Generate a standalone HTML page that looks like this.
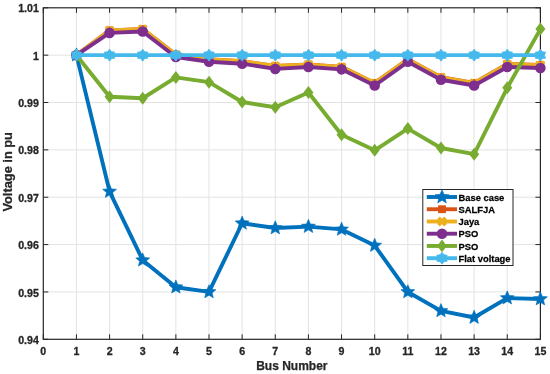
<!DOCTYPE html><html><head><meta charset="utf-8"><title>Voltage profile</title><style>html,body{margin:0;padding:0;background:#fff}body{width:550px;height:374px;overflow:hidden;position:relative}</style></head><body><svg width="550" height="374" viewBox="0 0 550 374" style="display:block;position:absolute;left:0;top:0">
<rect width="550" height="374" fill="#fff"/>
<path d="M76.44 7.80V339.30M109.58 7.80V339.30M142.72 7.80V339.30M175.86 7.80V339.30M209.00 7.80V339.30M242.14 7.80V339.30M275.28 7.80V339.30M308.42 7.80V339.30M341.56 7.80V339.30M374.70 7.80V339.30M407.84 7.80V339.30M440.98 7.80V339.30M474.12 7.80V339.30M507.26 7.80V339.30M43.30 291.94H540.40M43.30 244.59H540.40M43.30 197.23H540.40M43.30 149.87H540.40M43.30 102.51H540.40M43.30 55.16H540.40" stroke="#e3e3e3" stroke-width="1" fill="none"/>
<path d="M43.30 339.30v-5M43.30 7.80v5M76.44 339.30v-5M76.44 7.80v5M109.58 339.30v-5M109.58 7.80v5M142.72 339.30v-5M142.72 7.80v5M175.86 339.30v-5M175.86 7.80v5M209.00 339.30v-5M209.00 7.80v5M242.14 339.30v-5M242.14 7.80v5M275.28 339.30v-5M275.28 7.80v5M308.42 339.30v-5M308.42 7.80v5M341.56 339.30v-5M341.56 7.80v5M374.70 339.30v-5M374.70 7.80v5M407.84 339.30v-5M407.84 7.80v5M440.98 339.30v-5M440.98 7.80v5M474.12 339.30v-5M474.12 7.80v5M507.26 339.30v-5M507.26 7.80v5M540.40 339.30v-5M540.40 7.80v5M43.30 339.30h5M540.40 339.30h-5M43.30 291.94h5M540.40 291.94h-5M43.30 244.59h5M540.40 244.59h-5M43.30 197.23h5M540.40 197.23h-5M43.30 149.87h5M540.40 149.87h-5M43.30 102.51h5M540.40 102.51h-5M43.30 55.16h5M540.40 55.16h-5M43.30 7.80h5M540.40 7.80h-5" stroke="#262626" stroke-width="1" fill="none"/>
<rect x="43.30" y="7.80" width="497.10" height="331.50" fill="none" stroke="#262626" stroke-width="1.2"/>
<defs><clipPath id="c"><rect x="35.30" y="-0.20" width="513.10" height="347.50"/></clipPath></defs>
<defs><clipPath id="c1"><rect x="71.44" y="0" width="30" height="100"/></clipPath></defs>
<g clip-path="url(#c)">
<polyline points="76.44,55.16 109.58,191.55 142.72,260.21 175.86,287.21 209.00,291.94 242.14,223.27 275.28,228.01 308.42,226.59 341.56,229.43 374.70,245.53 407.84,291.94 440.98,310.89 474.12,317.52 507.26,298.10 540.40,299.05" fill="none" stroke="#0072BD" stroke-width="3.9" stroke-linejoin="round"/>
<g clip-path="url(#c1)"><polygon points="76.44,47.86 78.37,52.50 83.38,52.90 79.56,56.17 80.73,61.06 76.44,58.44 72.15,61.06 73.32,56.17 69.50,52.90 74.51,52.50" fill="#0072BD" stroke="#0072BD" stroke-width="0.6" stroke-linejoin="miter"/></g>
<polygon points="109.58,184.25 111.51,188.89 116.52,189.29 112.70,192.56 113.87,197.45 109.58,194.83 105.29,197.45 106.46,192.56 102.64,189.29 107.65,188.89" fill="#0072BD" stroke="#0072BD" stroke-width="0.6" stroke-linejoin="miter"/>
<polygon points="142.72,252.91 144.65,257.56 149.66,257.96 145.84,261.23 147.01,266.12 142.72,263.50 138.43,266.12 139.60,261.23 135.78,257.96 140.79,257.56" fill="#0072BD" stroke="#0072BD" stroke-width="0.6" stroke-linejoin="miter"/>
<polygon points="175.86,279.91 177.79,284.55 182.80,284.95 178.98,288.22 180.15,293.11 175.86,290.49 171.57,293.11 172.74,288.22 168.92,284.95 173.93,284.55" fill="#0072BD" stroke="#0072BD" stroke-width="0.6" stroke-linejoin="miter"/>
<polygon points="209.00,284.64 210.93,289.29 215.94,289.69 212.12,292.96 213.29,297.85 209.00,295.23 204.71,297.85 205.88,292.96 202.06,289.69 207.07,289.29" fill="#0072BD" stroke="#0072BD" stroke-width="0.6" stroke-linejoin="miter"/>
<polygon points="242.14,215.97 244.07,220.62 249.08,221.02 245.26,224.29 246.43,229.18 242.14,226.56 237.85,229.18 239.02,224.29 235.20,221.02 240.21,220.62" fill="#0072BD" stroke="#0072BD" stroke-width="0.6" stroke-linejoin="miter"/>
<polygon points="275.28,220.71 277.21,225.35 282.22,225.75 278.40,229.03 279.57,233.92 275.28,231.30 270.99,233.92 272.16,229.03 268.34,225.75 273.35,225.35" fill="#0072BD" stroke="#0072BD" stroke-width="0.6" stroke-linejoin="miter"/>
<polygon points="308.42,219.29 310.35,223.93 315.36,224.33 311.54,227.61 312.71,232.50 308.42,229.87 304.13,232.50 305.30,227.61 301.48,224.33 306.49,223.93" fill="#0072BD" stroke="#0072BD" stroke-width="0.6" stroke-linejoin="miter"/>
<polygon points="341.56,222.13 343.49,226.77 348.50,227.18 344.68,230.45 345.85,235.34 341.56,232.72 337.27,235.34 338.44,230.45 334.62,227.18 339.63,226.77" fill="#0072BD" stroke="#0072BD" stroke-width="0.6" stroke-linejoin="miter"/>
<polygon points="374.70,238.23 376.63,242.88 381.64,243.28 377.82,246.55 378.99,251.44 374.70,248.82 370.41,251.44 371.58,246.55 367.76,243.28 372.77,242.88" fill="#0072BD" stroke="#0072BD" stroke-width="0.6" stroke-linejoin="miter"/>
<polygon points="407.84,284.64 409.77,289.29 414.78,289.69 410.96,292.96 412.13,297.85 407.84,295.23 403.55,297.85 404.72,292.96 400.90,289.69 405.91,289.29" fill="#0072BD" stroke="#0072BD" stroke-width="0.6" stroke-linejoin="miter"/>
<polygon points="440.98,303.59 442.91,308.23 447.92,308.63 444.10,311.90 445.27,316.79 440.98,314.17 436.69,316.79 437.86,311.90 434.04,308.63 439.05,308.23" fill="#0072BD" stroke="#0072BD" stroke-width="0.6" stroke-linejoin="miter"/>
<polygon points="474.12,310.22 476.05,314.86 481.06,315.26 477.24,318.53 478.41,323.42 474.12,320.80 469.83,323.42 471.00,318.53 467.18,315.26 472.19,314.86" fill="#0072BD" stroke="#0072BD" stroke-width="0.6" stroke-linejoin="miter"/>
<polygon points="507.26,290.80 509.19,295.44 514.20,295.84 510.38,299.11 511.55,304.01 507.26,301.38 502.97,304.01 504.14,299.11 500.32,295.84 505.33,295.44" fill="#0072BD" stroke="#0072BD" stroke-width="0.6" stroke-linejoin="miter"/>
<polygon points="540.40,291.75 542.33,296.39 547.34,296.79 543.52,300.06 544.69,304.95 540.40,302.33 536.11,304.95 537.28,300.06 533.46,296.79 538.47,296.39" fill="#0072BD" stroke="#0072BD" stroke-width="0.6" stroke-linejoin="miter"/>
<polyline points="76.44,55.16 109.58,30.39 142.72,28.97 175.86,54.54 209.00,59.28 242.14,61.17 275.28,65.91 308.42,64.49 341.56,66.85 374.70,82.96 407.84,59.28 440.98,77.27 474.12,82.96 507.26,64.01 540.40,64.96" fill="none" stroke="#D95319" stroke-width="3.9" stroke-linejoin="round"/>
<rect x="72.54" y="51.26" width="7.8" height="7.8" fill="#D95319"/>
<rect x="105.68" y="26.49" width="7.8" height="7.8" fill="#D95319"/>
<rect x="138.82" y="25.07" width="7.8" height="7.8" fill="#D95319"/>
<rect x="171.96" y="50.64" width="7.8" height="7.8" fill="#D95319"/>
<rect x="205.10" y="55.38" width="7.8" height="7.8" fill="#D95319"/>
<rect x="238.24" y="57.27" width="7.8" height="7.8" fill="#D95319"/>
<rect x="271.38" y="62.01" width="7.8" height="7.8" fill="#D95319"/>
<rect x="304.52" y="60.59" width="7.8" height="7.8" fill="#D95319"/>
<rect x="337.66" y="62.95" width="7.8" height="7.8" fill="#D95319"/>
<rect x="370.80" y="79.06" width="7.8" height="7.8" fill="#D95319"/>
<rect x="403.94" y="55.38" width="7.8" height="7.8" fill="#D95319"/>
<rect x="437.08" y="73.37" width="7.8" height="7.8" fill="#D95319"/>
<rect x="470.22" y="79.06" width="7.8" height="7.8" fill="#D95319"/>
<rect x="503.36" y="60.11" width="7.8" height="7.8" fill="#D95319"/>
<rect x="536.50" y="61.06" width="7.8" height="7.8" fill="#D95319"/>
<polyline points="76.44,55.16 109.58,30.53 142.72,29.11 175.86,54.68 209.00,59.42 242.14,61.31 275.28,66.05 308.42,64.63 341.56,67.00 374.70,83.10 407.84,59.42 440.98,77.41 474.12,83.10 507.26,64.15 540.40,65.10" fill="none" stroke="#EDB120" stroke-width="3.9" stroke-linejoin="round"/>
<path d="M72.84 51.56L80.04 58.76M72.84 58.76L80.04 51.56" stroke="#EDB120" stroke-width="3.8" fill="none"/>
<path d="M105.98 26.93L113.18 34.13M105.98 34.13L113.18 26.93" stroke="#EDB120" stroke-width="3.8" fill="none"/>
<path d="M139.12 25.51L146.32 32.71M139.12 32.71L146.32 25.51" stroke="#EDB120" stroke-width="3.8" fill="none"/>
<path d="M172.26 51.08L179.46 58.28M172.26 58.28L179.46 51.08" stroke="#EDB120" stroke-width="3.8" fill="none"/>
<path d="M205.40 55.82L212.60 63.02M205.40 63.02L212.60 55.82" stroke="#EDB120" stroke-width="3.8" fill="none"/>
<path d="M238.54 57.71L245.74 64.91M238.54 64.91L245.74 57.71" stroke="#EDB120" stroke-width="3.8" fill="none"/>
<path d="M271.68 62.45L278.88 69.65M271.68 69.65L278.88 62.45" stroke="#EDB120" stroke-width="3.8" fill="none"/>
<path d="M304.82 61.03L312.02 68.23M304.82 68.23L312.02 61.03" stroke="#EDB120" stroke-width="3.8" fill="none"/>
<path d="M337.96 63.40L345.16 70.60M337.96 70.60L345.16 63.40" stroke="#EDB120" stroke-width="3.8" fill="none"/>
<path d="M371.10 79.50L378.30 86.70M371.10 86.70L378.30 79.50" stroke="#EDB120" stroke-width="3.8" fill="none"/>
<path d="M404.24 55.82L411.44 63.02M404.24 63.02L411.44 55.82" stroke="#EDB120" stroke-width="3.8" fill="none"/>
<path d="M437.38 73.81L444.58 81.01M437.38 81.01L444.58 73.81" stroke="#EDB120" stroke-width="3.8" fill="none"/>
<path d="M470.52 79.50L477.72 86.70M470.52 86.70L477.72 79.50" stroke="#EDB120" stroke-width="3.8" fill="none"/>
<path d="M503.66 60.55L510.86 67.75M503.66 67.75L510.86 60.55" stroke="#EDB120" stroke-width="3.8" fill="none"/>
<path d="M536.80 61.50L544.00 68.70M536.80 68.70L544.00 61.50" stroke="#EDB120" stroke-width="3.8" fill="none"/>
<polyline points="76.44,55.16 109.58,32.90 142.72,31.48 175.86,57.05 209.00,61.79 242.14,63.68 275.28,68.89 308.42,67.00 341.56,69.36 374.70,85.47 407.84,61.79 440.98,79.78 474.12,85.47 507.26,67.00 540.40,67.94" fill="none" stroke="#7E2F8E" stroke-width="3.9" stroke-linejoin="round"/>
<circle cx="76.44" cy="55.16" r="5.3" fill="#7E2F8E"/>
<circle cx="109.58" cy="32.90" r="5.3" fill="#7E2F8E"/>
<circle cx="142.72" cy="31.48" r="5.3" fill="#7E2F8E"/>
<circle cx="175.86" cy="57.05" r="5.3" fill="#7E2F8E"/>
<circle cx="209.00" cy="61.79" r="5.3" fill="#7E2F8E"/>
<circle cx="242.14" cy="63.68" r="5.3" fill="#7E2F8E"/>
<circle cx="275.28" cy="68.89" r="5.3" fill="#7E2F8E"/>
<circle cx="308.42" cy="67.00" r="5.3" fill="#7E2F8E"/>
<circle cx="341.56" cy="69.36" r="5.3" fill="#7E2F8E"/>
<circle cx="374.70" cy="85.47" r="5.3" fill="#7E2F8E"/>
<circle cx="407.84" cy="61.79" r="5.3" fill="#7E2F8E"/>
<circle cx="440.98" cy="79.78" r="5.3" fill="#7E2F8E"/>
<circle cx="474.12" cy="85.47" r="5.3" fill="#7E2F8E"/>
<circle cx="507.26" cy="67.00" r="5.3" fill="#7E2F8E"/>
<circle cx="540.40" cy="67.94" r="5.3" fill="#7E2F8E"/>
<polyline points="76.44,55.16 109.58,96.74 142.72,98.25 175.86,77.41 209.00,82.15 242.14,102.04 275.28,107.25 308.42,92.57 341.56,134.72 374.70,150.34 407.84,128.56 440.98,147.98 474.12,154.13 507.26,87.83 540.40,29.11" fill="none" stroke="#77AC30" stroke-width="3.9" stroke-linejoin="round"/>
<polygon points="76.44,48.66 81.44,55.16 76.44,61.66 71.44,55.16" fill="#77AC30"/>
<polygon points="109.58,90.24 114.58,96.74 109.58,103.24 104.58,96.74" fill="#77AC30"/>
<polygon points="142.72,91.75 147.72,98.25 142.72,104.75 137.72,98.25" fill="#77AC30"/>
<polygon points="175.86,70.91 180.86,77.41 175.86,83.91 170.86,77.41" fill="#77AC30"/>
<polygon points="209.00,75.65 214.00,82.15 209.00,88.65 204.00,82.15" fill="#77AC30"/>
<polygon points="242.14,95.54 247.14,102.04 242.14,108.54 237.14,102.04" fill="#77AC30"/>
<polygon points="275.28,100.75 280.28,107.25 275.28,113.75 270.28,107.25" fill="#77AC30"/>
<polygon points="308.42,86.07 313.42,92.57 308.42,99.07 303.42,92.57" fill="#77AC30"/>
<polygon points="341.56,128.22 346.56,134.72 341.56,141.22 336.56,134.72" fill="#77AC30"/>
<polygon points="374.70,143.84 379.70,150.34 374.70,156.84 369.70,150.34" fill="#77AC30"/>
<polygon points="407.84,122.06 412.84,128.56 407.84,135.06 402.84,128.56" fill="#77AC30"/>
<polygon points="440.98,141.48 445.98,147.98 440.98,154.48 435.98,147.98" fill="#77AC30"/>
<polygon points="474.12,147.63 479.12,154.13 474.12,160.63 469.12,154.13" fill="#77AC30"/>
<polygon points="507.26,81.33 512.26,87.83 507.26,94.33 502.26,87.83" fill="#77AC30"/>
<polygon points="540.40,22.61 545.40,29.11 540.40,35.61 535.40,29.11" fill="#77AC30"/>
<polyline points="76.44,55.16 109.58,55.16 142.72,55.16 175.86,55.16 209.00,55.16 242.14,55.16 275.28,55.16 308.42,55.16 341.56,55.16 374.70,55.16 407.84,55.16 440.98,55.16 474.12,55.16 507.26,55.16 540.40,55.16" fill="none" stroke="#45B9EC" stroke-width="3.9" stroke-linejoin="round"/>
<polygon points="76.44,49.16 78.42,51.73 81.64,52.16 80.40,55.16 81.64,58.16 78.42,58.59 76.44,61.16 74.46,58.59 71.24,58.16 72.48,55.16 71.24,52.16 74.46,51.73" fill="#45B9EC" stroke="#45B9EC" stroke-width="0.8"/>
<polygon points="109.58,49.16 111.56,51.73 114.78,52.16 113.54,55.16 114.78,58.16 111.56,58.59 109.58,61.16 107.60,58.59 104.38,58.16 105.62,55.16 104.38,52.16 107.60,51.73" fill="#45B9EC" stroke="#45B9EC" stroke-width="0.8"/>
<polygon points="142.72,49.16 144.70,51.73 147.92,52.16 146.68,55.16 147.92,58.16 144.70,58.59 142.72,61.16 140.74,58.59 137.52,58.16 138.76,55.16 137.52,52.16 140.74,51.73" fill="#45B9EC" stroke="#45B9EC" stroke-width="0.8"/>
<polygon points="175.86,49.16 177.84,51.73 181.06,52.16 179.82,55.16 181.06,58.16 177.84,58.59 175.86,61.16 173.88,58.59 170.66,58.16 171.90,55.16 170.66,52.16 173.88,51.73" fill="#45B9EC" stroke="#45B9EC" stroke-width="0.8"/>
<polygon points="209.00,49.16 210.98,51.73 214.20,52.16 212.96,55.16 214.20,58.16 210.98,58.59 209.00,61.16 207.02,58.59 203.80,58.16 205.04,55.16 203.80,52.16 207.02,51.73" fill="#45B9EC" stroke="#45B9EC" stroke-width="0.8"/>
<polygon points="242.14,49.16 244.12,51.73 247.34,52.16 246.10,55.16 247.34,58.16 244.12,58.59 242.14,61.16 240.16,58.59 236.94,58.16 238.18,55.16 236.94,52.16 240.16,51.73" fill="#45B9EC" stroke="#45B9EC" stroke-width="0.8"/>
<polygon points="275.28,49.16 277.26,51.73 280.48,52.16 279.24,55.16 280.48,58.16 277.26,58.59 275.28,61.16 273.30,58.59 270.08,58.16 271.32,55.16 270.08,52.16 273.30,51.73" fill="#45B9EC" stroke="#45B9EC" stroke-width="0.8"/>
<polygon points="308.42,49.16 310.40,51.73 313.62,52.16 312.38,55.16 313.62,58.16 310.40,58.59 308.42,61.16 306.44,58.59 303.22,58.16 304.46,55.16 303.22,52.16 306.44,51.73" fill="#45B9EC" stroke="#45B9EC" stroke-width="0.8"/>
<polygon points="341.56,49.16 343.54,51.73 346.76,52.16 345.52,55.16 346.76,58.16 343.54,58.59 341.56,61.16 339.58,58.59 336.36,58.16 337.60,55.16 336.36,52.16 339.58,51.73" fill="#45B9EC" stroke="#45B9EC" stroke-width="0.8"/>
<polygon points="374.70,49.16 376.68,51.73 379.90,52.16 378.66,55.16 379.90,58.16 376.68,58.59 374.70,61.16 372.72,58.59 369.50,58.16 370.74,55.16 369.50,52.16 372.72,51.73" fill="#45B9EC" stroke="#45B9EC" stroke-width="0.8"/>
<polygon points="407.84,49.16 409.82,51.73 413.04,52.16 411.80,55.16 413.04,58.16 409.82,58.59 407.84,61.16 405.86,58.59 402.64,58.16 403.88,55.16 402.64,52.16 405.86,51.73" fill="#45B9EC" stroke="#45B9EC" stroke-width="0.8"/>
<polygon points="440.98,49.16 442.96,51.73 446.18,52.16 444.94,55.16 446.18,58.16 442.96,58.59 440.98,61.16 439.00,58.59 435.78,58.16 437.02,55.16 435.78,52.16 439.00,51.73" fill="#45B9EC" stroke="#45B9EC" stroke-width="0.8"/>
<polygon points="474.12,49.16 476.10,51.73 479.32,52.16 478.08,55.16 479.32,58.16 476.10,58.59 474.12,61.16 472.14,58.59 468.92,58.16 470.16,55.16 468.92,52.16 472.14,51.73" fill="#45B9EC" stroke="#45B9EC" stroke-width="0.8"/>
<polygon points="507.26,49.16 509.24,51.73 512.46,52.16 511.22,55.16 512.46,58.16 509.24,58.59 507.26,61.16 505.28,58.59 502.06,58.16 503.30,55.16 502.06,52.16 505.28,51.73" fill="#45B9EC" stroke="#45B9EC" stroke-width="0.8"/>
<polygon points="540.40,49.16 542.38,51.73 545.60,52.16 544.36,55.16 545.60,58.16 542.38,58.59 540.40,61.16 538.42,58.59 535.20,58.16 536.44,55.16 535.20,52.16 538.42,51.73" fill="#45B9EC" stroke="#45B9EC" stroke-width="0.8"/>
</g>
<g font-family="Liberation Sans, Arial, sans-serif" font-weight="bold" font-size="10.6px" fill="#262626" stroke="#262626" stroke-width="0.3">
<text x="43.30" y="354.50" text-anchor="middle">0</text>
<text x="76.44" y="354.50" text-anchor="middle">1</text>
<text x="109.58" y="354.50" text-anchor="middle">2</text>
<text x="142.72" y="354.50" text-anchor="middle">3</text>
<text x="175.86" y="354.50" text-anchor="middle">4</text>
<text x="209.00" y="354.50" text-anchor="middle">5</text>
<text x="242.14" y="354.50" text-anchor="middle">6</text>
<text x="275.28" y="354.50" text-anchor="middle">7</text>
<text x="308.42" y="354.50" text-anchor="middle">8</text>
<text x="341.56" y="354.50" text-anchor="middle">9</text>
<text x="374.70" y="354.50" text-anchor="middle">10</text>
<text x="407.84" y="354.50" text-anchor="middle">11</text>
<text x="440.98" y="354.50" text-anchor="middle">12</text>
<text x="474.12" y="354.50" text-anchor="middle">13</text>
<text x="507.26" y="354.50" text-anchor="middle">14</text>
<text x="540.40" y="354.50" text-anchor="middle">15</text>
<text x="38.80" y="343.90" text-anchor="end">0.94</text>
<text x="38.80" y="296.54" text-anchor="end">0.95</text>
<text x="38.80" y="249.19" text-anchor="end">0.96</text>
<text x="38.80" y="201.83" text-anchor="end">0.97</text>
<text x="38.80" y="154.47" text-anchor="end">0.98</text>
<text x="38.80" y="107.11" text-anchor="end">0.99</text>
<text x="38.80" y="59.76" text-anchor="end">1</text>
<text x="38.80" y="12.40" text-anchor="end">1.01</text>
</g>
<g font-family="Liberation Sans, Arial, sans-serif" font-weight="bold" font-size="12px" fill="#262626" stroke="#262626" stroke-width="0.25">
<text x="291.85" y="369.90" text-anchor="middle">Bus Number</text>
<text transform="translate(12.3,171.80) rotate(-90)" text-anchor="middle" textLength="79.5" lengthAdjust="spacingAndGlyphs">Voltage in pu</text>
</g>
<rect x="422.8" y="189.5" width="90.2" height="76" fill="#fff" stroke="#262626" stroke-width="1"/>
<g font-family="Liberation Sans, Arial, sans-serif" font-weight="bold" font-size="9.9px" fill="#000">
<path d="M426.80 197.00H457.00" stroke="#0072BD" stroke-width="3.9"/>
<polygon points="442.00,189.70 443.93,194.34 448.94,194.74 445.12,198.02 446.29,202.91 442.00,200.28 437.71,202.91 438.88,198.02 435.06,194.74 440.07,194.34" fill="#0072BD" stroke="#0072BD" stroke-width="0.6" stroke-linejoin="miter"/>
<text stroke="#000" stroke-width="0.25" transform="translate(458.50,200.60) scale(0.948,1)">Base case</text>
<path d="M426.80 209.24H457.00" stroke="#D95319" stroke-width="3.9"/>
<rect x="438.10" y="205.34" width="7.8" height="7.8" fill="#D95319"/>
<text stroke="#000" stroke-width="0.25" transform="translate(458.50,212.84) scale(0.948,1)">SALFJA</text>
<path d="M426.80 221.48H457.00" stroke="#EDB120" stroke-width="3.9"/>
<path d="M438.40 217.88L445.60 225.08M438.40 225.08L445.60 217.88" stroke="#EDB120" stroke-width="3.8" fill="none"/>
<text stroke="#000" stroke-width="0.25" transform="translate(458.50,225.08) scale(0.948,1)">Jaya</text>
<path d="M426.80 233.72H457.00" stroke="#7E2F8E" stroke-width="3.9"/>
<circle cx="442.00" cy="233.72" r="5.3" fill="#7E2F8E"/>
<text stroke="#000" stroke-width="0.25" transform="translate(458.50,237.32) scale(0.948,1)">PSO</text>
<path d="M426.80 245.96H457.00" stroke="#77AC30" stroke-width="3.9"/>
<polygon points="442.00,239.56 446.80,245.96 442.00,252.36 437.20,245.96" fill="#77AC30"/>
<text stroke="#000" stroke-width="0.25" transform="translate(458.50,249.56) scale(0.948,1)">PSO</text>
<path d="M426.80 258.20H457.00" stroke="#45B9EC" stroke-width="3.9"/>
<polygon points="442.00,252.20 443.98,254.77 447.20,255.20 445.96,258.20 447.20,261.20 443.98,261.63 442.00,264.20 440.02,261.63 436.80,261.20 438.04,258.20 436.80,255.20 440.02,254.77" fill="#45B9EC" stroke="#45B9EC" stroke-width="0.8"/>
<text stroke="#000" stroke-width="0.25" transform="translate(458.50,261.80) scale(0.948,1)">Flat voltage</text>
</g>
</svg></body></html>
